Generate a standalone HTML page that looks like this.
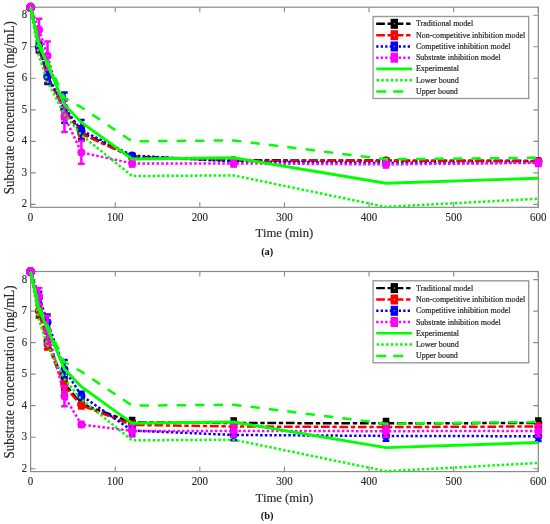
<!DOCTYPE html>
<html><head><meta charset="utf-8"><title>Substrate concentration</title>
<style>
html,body{margin:0;padding:0;background:#fff;}
body{width:550px;height:524px;overflow:hidden;}
svg{display:block;filter:blur(0.3px);}
.tl{font-family:'Liberation Serif', 'Times New Roman', serif;font-size:11.8px;fill:#2a2a2a;stroke:#2a2a2a;stroke-width:0.15px;}
.al{font-family:'Liberation Serif', 'Times New Roman', serif;font-size:12.8px;fill:#2a2a2a;stroke:#2a2a2a;stroke-width:0.15px;}
.yl{font-size:13.6px;}
.lg{font-family:'Liberation Serif', 'Times New Roman', serif;font-size:8.5px;fill:#2a2a2a;stroke:#2a2a2a;stroke-width:0.22px;}
.pl{font-family:'Liberation Serif', 'Times New Roman', serif;font-size:10.4px;font-weight:bold;fill:#111;}
</style></head>
<body>
<svg width="550" height="524" viewBox="0 0 550 524">
<rect width="550" height="524" fill="#fff"/>
<rect x="30.60" y="7.20" width="507.70" height="200.10" fill="none" stroke="#8a8a8a" stroke-width="1.2"/>
<path d="M30.60 204.40h5M538.30 204.40h-5M30.60 172.88h5M538.30 172.88h-5M30.60 141.36h5M538.30 141.36h-5M30.60 109.84h5M538.30 109.84h-5M30.60 78.32h5M538.30 78.32h-5M30.60 46.80h5M538.30 46.80h-5M30.60 15.28h5M538.30 15.28h-5M30.60 207.30v-5M30.60 7.20v5M115.22 207.30v-5M115.22 7.20v5M199.83 207.30v-5M199.83 7.20v5M284.45 207.30v-5M284.45 7.20v5M369.07 207.30v-5M369.07 7.20v5M453.68 207.30v-5M453.68 7.20v5M538.30 207.30v-5M538.30 7.20v5" stroke="#8a8a8a" stroke-width="1.1" fill="none"/>
<text x="27.2" y="207.40" text-anchor="end" class="tl" textLength="5.4" lengthAdjust="spacingAndGlyphs">2</text>
<text x="27.2" y="175.88" text-anchor="end" class="tl" textLength="5.4" lengthAdjust="spacingAndGlyphs">3</text>
<text x="27.2" y="144.36" text-anchor="end" class="tl" textLength="5.4" lengthAdjust="spacingAndGlyphs">4</text>
<text x="27.2" y="112.84" text-anchor="end" class="tl" textLength="5.4" lengthAdjust="spacingAndGlyphs">5</text>
<text x="27.2" y="81.32" text-anchor="end" class="tl" textLength="5.4" lengthAdjust="spacingAndGlyphs">6</text>
<text x="27.2" y="49.80" text-anchor="end" class="tl" textLength="5.4" lengthAdjust="spacingAndGlyphs">7</text>
<text x="27.2" y="18.28" text-anchor="end" class="tl" textLength="5.4" lengthAdjust="spacingAndGlyphs">8</text>
<text x="30.60" y="221.00" text-anchor="middle" class="tl" textLength="5.5" lengthAdjust="spacingAndGlyphs">0</text>
<text x="115.22" y="221.00" text-anchor="middle" class="tl" textLength="16.4" lengthAdjust="spacingAndGlyphs">100</text>
<text x="199.83" y="221.00" text-anchor="middle" class="tl" textLength="16.4" lengthAdjust="spacingAndGlyphs">200</text>
<text x="284.45" y="221.00" text-anchor="middle" class="tl" textLength="16.4" lengthAdjust="spacingAndGlyphs">300</text>
<text x="369.07" y="221.00" text-anchor="middle" class="tl" textLength="16.4" lengthAdjust="spacingAndGlyphs">400</text>
<text x="453.68" y="221.00" text-anchor="middle" class="tl" textLength="16.4" lengthAdjust="spacingAndGlyphs">500</text>
<text x="538.30" y="221.00" text-anchor="middle" class="tl" textLength="16.4" lengthAdjust="spacingAndGlyphs">600</text>
<text transform="translate(14.1 107.65) rotate(-90)" text-anchor="middle" class="al yl" textLength="173.2" lengthAdjust="spacingAndGlyphs">Substrate concentration (mg/mL)</text>
<text x="284.4" y="237.40" text-anchor="middle" class="al" textLength="57.6" lengthAdjust="spacingAndGlyphs">Time (min)</text>
<text x="267.2" y="254.60" text-anchor="middle" class="pl">(a)</text>
<clipPath id="ca"><rect x="24.60" y="1.20" width="519.70" height="212.10"/></clipPath>
<g clip-path="url(#ca)" fill="none" stroke-width="2.5">
<polyline points="30.60,7.40 39.06,47.43 47.52,76.74 64.45,109.21 81.37,132.53 132.14,156.49 233.68,160.27 385.99,160.59 538.30,160.90" stroke="#000000" stroke-dasharray="8.7 2.7 4.4 2.7"/>
<path d="M39.06 42.70V52.16M35.76 42.70h6.6M35.76 52.16h6.6M47.52 70.44V83.05M44.22 70.44h6.6M44.22 83.05h6.6M64.45 99.75V118.67M61.15 99.75h6.6M61.15 118.67h6.6M81.37 126.23V138.84M78.07 126.23h6.6M78.07 138.84h6.6M132.14 154.60V158.38M128.84 154.60h6.6M128.84 158.38h6.6M233.68 158.38V162.16M230.38 158.38h6.6M230.38 162.16h6.6M385.99 158.70V162.48M382.69 158.70h6.6M382.69 162.48h6.6M538.30 159.01V162.79M535.00 159.01h6.6M535.00 162.79h6.6" stroke="#000000"/>
<circle cx="30.60" cy="7.40" r="3.0" stroke="#000000" stroke-width="3.2"/>
<circle cx="39.06" cy="47.43" r="2.6" stroke="#000000" stroke-width="2.8"/>
<circle cx="47.52" cy="76.74" r="2.6" stroke="#000000" stroke-width="2.8"/>
<circle cx="64.45" cy="109.21" r="2.6" stroke="#000000" stroke-width="2.8"/>
<circle cx="81.37" cy="132.53" r="2.6" stroke="#000000" stroke-width="2.8"/>
<circle cx="132.14" cy="156.49" r="2.6" stroke="#000000" stroke-width="2.8"/>
<circle cx="233.68" cy="160.27" r="2.6" stroke="#000000" stroke-width="2.8"/>
<circle cx="385.99" cy="160.59" r="2.6" stroke="#000000" stroke-width="2.8"/>
<circle cx="538.30" cy="160.90" r="2.6" stroke="#000000" stroke-width="2.8"/>
<polyline points="30.60,7.40 39.06,48.06 47.52,77.06 64.45,109.84 81.37,133.80 132.14,157.12 233.68,160.59 385.99,160.90 538.30,161.22" stroke="#ff0000" stroke-dasharray="8.7 2.7 4.4 2.7"/>
<path d="M39.06 43.33V52.79M35.76 43.33h6.6M35.76 52.79h6.6M47.52 70.76V83.36M44.22 70.76h6.6M44.22 83.36h6.6M64.45 100.38V119.30M61.15 100.38h6.6M61.15 119.30h6.6M81.37 127.49V140.10M78.07 127.49h6.6M78.07 140.10h6.6M132.14 155.23V159.01M128.84 155.23h6.6M128.84 159.01h6.6M233.68 158.70V162.48M230.38 158.70h6.6M230.38 162.48h6.6M385.99 158.38V163.42M382.69 158.38h6.6M382.69 163.42h6.6M538.30 159.33V163.11M535.00 159.33h6.6M535.00 163.11h6.6" stroke="#ff0000"/>
<circle cx="30.60" cy="7.40" r="3.0" stroke="#ff0000" stroke-width="3.2"/>
<circle cx="39.06" cy="48.06" r="2.6" stroke="#ff0000" stroke-width="2.8"/>
<circle cx="47.52" cy="77.06" r="2.6" stroke="#ff0000" stroke-width="2.8"/>
<circle cx="64.45" cy="109.84" r="2.6" stroke="#ff0000" stroke-width="2.8"/>
<circle cx="81.37" cy="133.80" r="2.6" stroke="#ff0000" stroke-width="2.8"/>
<circle cx="132.14" cy="157.12" r="2.6" stroke="#ff0000" stroke-width="2.8"/>
<circle cx="233.68" cy="160.59" r="2.6" stroke="#ff0000" stroke-width="2.8"/>
<circle cx="385.99" cy="160.90" r="2.6" stroke="#ff0000" stroke-width="2.8"/>
<circle cx="538.30" cy="161.22" r="2.6" stroke="#ff0000" stroke-width="2.8"/>
<polyline points="30.60,7.40 39.06,46.80 47.52,76.11 64.45,107.63 81.37,130.33 132.14,155.54 233.68,161.53 385.99,163.11 538.30,162.79" stroke="#0000ff" stroke-dasharray="2.5 2.2"/>
<path d="M39.06 42.07V51.53M35.76 42.07h6.6M35.76 51.53h6.6M47.52 68.23V83.99M44.22 68.23h6.6M44.22 83.99h6.6M64.45 92.50V122.76M61.15 92.50h6.6M61.15 122.76h6.6M81.37 119.93V140.73M78.07 119.93h6.6M78.07 140.73h6.6M132.14 153.65V157.44M128.84 153.65h6.6M128.84 157.44h6.6M233.68 159.64V163.42M230.38 159.64h6.6M230.38 163.42h6.6M385.99 161.22V165.00M382.69 161.22h6.6M382.69 165.00h6.6M538.30 160.90V164.68M535.00 160.90h6.6M535.00 164.68h6.6" stroke="#0000ff"/>
<circle cx="30.60" cy="7.40" r="3.0" stroke="#0000ff" stroke-width="3.2"/>
<circle cx="39.06" cy="46.80" r="2.6" stroke="#0000ff" stroke-width="2.8"/>
<circle cx="47.52" cy="76.11" r="2.6" stroke="#0000ff" stroke-width="2.8"/>
<circle cx="64.45" cy="107.63" r="2.6" stroke="#0000ff" stroke-width="2.8"/>
<circle cx="81.37" cy="130.33" r="2.6" stroke="#0000ff" stroke-width="2.8"/>
<circle cx="132.14" cy="155.54" r="2.6" stroke="#0000ff" stroke-width="2.8"/>
<circle cx="233.68" cy="161.53" r="2.6" stroke="#0000ff" stroke-width="2.8"/>
<circle cx="385.99" cy="163.11" r="2.6" stroke="#0000ff" stroke-width="2.8"/>
<circle cx="538.30" cy="162.79" r="2.6" stroke="#0000ff" stroke-width="2.8"/>
<polyline points="30.60,7.40 39.06,29.78 47.52,55.63 64.45,116.14 81.37,152.39 132.14,163.42 233.68,163.42 385.99,164.37 538.30,162.79" stroke="#ff00ff" stroke-dasharray="2.5 2.2"/>
<path d="M39.06 18.75V40.81M35.76 18.75h6.6M35.76 40.81h6.6M47.52 41.44V69.81M44.22 41.44h6.6M44.22 69.81h6.6M64.45 100.38V131.90M61.15 100.38h6.6M61.15 131.90h6.6M81.37 141.04V163.74M78.07 141.04h6.6M78.07 163.74h6.6M132.14 160.27V166.58M128.84 160.27h6.6M128.84 166.58h6.6M233.68 160.27V166.58M230.38 160.27h6.6M230.38 166.58h6.6M385.99 161.22V167.52M382.69 161.22h6.6M382.69 167.52h6.6M538.30 159.64V165.95M535.00 159.64h6.6M535.00 165.95h6.6" stroke="#ff00ff"/>
<circle cx="30.60" cy="7.40" r="3.0" stroke="#ff00ff" stroke-width="3.2"/>
<circle cx="39.06" cy="29.78" r="2.6" stroke="#ff00ff" stroke-width="2.8"/>
<circle cx="47.52" cy="55.63" r="2.6" stroke="#ff00ff" stroke-width="2.8"/>
<circle cx="64.45" cy="116.14" r="2.6" stroke="#ff00ff" stroke-width="2.8"/>
<circle cx="81.37" cy="152.39" r="2.6" stroke="#ff00ff" stroke-width="2.8"/>
<circle cx="132.14" cy="163.42" r="2.6" stroke="#ff00ff" stroke-width="2.8"/>
<circle cx="233.68" cy="163.42" r="2.6" stroke="#ff00ff" stroke-width="2.8"/>
<circle cx="385.99" cy="164.37" r="2.6" stroke="#ff00ff" stroke-width="2.8"/>
<circle cx="538.30" cy="162.79" r="2.6" stroke="#ff00ff" stroke-width="2.8"/>
<polyline points="30.60,7.40 39.06,45.54 47.52,64.45 64.45,104.80 81.37,122.45 132.14,159.01 233.68,157.75 385.99,183.28 538.30,178.24" stroke="#00ff00" stroke-width="2.9"/>
<polyline points="30.60,7.40 39.06,56.26 47.52,81.47 64.45,114.57 81.37,135.06 132.14,176.03 233.68,175.40 385.99,206.92 538.30,198.73" stroke="#00ff00" stroke-dasharray="2.5 2.2"/>
<polyline points="30.60,7.40 39.06,42.07 47.52,60.98 64.45,97.86 81.37,107.32 132.14,141.36 233.68,140.41 385.99,159.33 538.30,157.75" stroke="#00ff00" stroke-dasharray="9.3 9.2"/>
</g>
<rect x="373.10" y="16.50" width="155.60" height="82.00" fill="#fff" stroke="#9a9a9a" stroke-width="1.4"/>
<text x="415.9" y="26.30" class="lg" textLength="57.26" lengthAdjust="spacingAndGlyphs">Traditional model</text>
<line x1="376.2" y1="23.80" x2="411.2" y2="23.80" stroke="#000000" stroke-width="2.4" stroke-dasharray="8.7 2.7 4.4 2.7"/>
<rect x="390.6" y="18.80" width="7.4" height="10" fill="#000000"/>
<circle cx="394.3" cy="23.80" r="0.8" fill="#fff" fill-opacity="0.55"/>
<text x="415.9" y="37.70" class="lg" textLength="109.32" lengthAdjust="spacingAndGlyphs">Non-competitive inhibition model</text>
<line x1="376.2" y1="35.20" x2="411.2" y2="35.20" stroke="#ff0000" stroke-width="2.4" stroke-dasharray="8.7 2.7 4.4 2.7"/>
<rect x="390.6" y="30.20" width="7.4" height="10" fill="#ff0000"/>
<circle cx="394.3" cy="35.20" r="0.8" fill="#fff" fill-opacity="0.55"/>
<text x="415.9" y="49.00" class="lg" textLength="94.66" lengthAdjust="spacingAndGlyphs">Competitive inhibition model</text>
<line x1="376.2" y1="46.50" x2="411.2" y2="46.50" stroke="#0000ff" stroke-width="2.4" stroke-dasharray="2.3 2.2"/>
<rect x="390.6" y="41.50" width="7.4" height="10" fill="#0000ff"/>
<circle cx="394.3" cy="46.50" r="0.8" fill="#fff" fill-opacity="0.55"/>
<text x="415.9" y="60.20" class="lg" textLength="84.88" lengthAdjust="spacingAndGlyphs">Substrate inhibition model</text>
<line x1="376.2" y1="57.70" x2="411.2" y2="57.70" stroke="#ff00ff" stroke-width="2.4" stroke-dasharray="2.3 2.2"/>
<rect x="390.6" y="52.70" width="7.4" height="10" fill="#ff00ff"/>
<circle cx="394.3" cy="57.70" r="0.8" fill="#fff" fill-opacity="0.55"/>
<text x="415.9" y="71.40" class="lg" textLength="43.09" lengthAdjust="spacingAndGlyphs">Experimental</text>
<line x1="376.2" y1="68.90" x2="412.2" y2="68.90" stroke="#00ff00" stroke-width="2.6"/>
<text x="415.9" y="82.70" class="lg" textLength="42.88" lengthAdjust="spacingAndGlyphs">Lower bound</text>
<line x1="376.6" y1="80.20" x2="412" y2="80.20" stroke="#00ff00" stroke-width="2.4" stroke-dasharray="2.5 2.2"/>
<text x="415.9" y="94.10" class="lg" textLength="41.99" lengthAdjust="spacingAndGlyphs">Upper bound</text>
<line x1="376.2" y1="91.60" x2="403.2" y2="91.60" stroke="#00ff00" stroke-width="2.5" stroke-dasharray="10 7"/>
<rect x="30.60" y="271.50" width="507.70" height="200.10" fill="none" stroke="#8a8a8a" stroke-width="1.2"/>
<path d="M30.60 468.70h5M538.30 468.70h-5M30.60 437.18h5M538.30 437.18h-5M30.60 405.66h5M538.30 405.66h-5M30.60 374.14h5M538.30 374.14h-5M30.60 342.62h5M538.30 342.62h-5M30.60 311.10h5M538.30 311.10h-5M30.60 279.58h5M538.30 279.58h-5M30.60 471.60v-5M30.60 271.50v5M115.22 471.60v-5M115.22 271.50v5M199.83 471.60v-5M199.83 271.50v5M284.45 471.60v-5M284.45 271.50v5M369.07 471.60v-5M369.07 271.50v5M453.68 471.60v-5M453.68 271.50v5M538.30 471.60v-5M538.30 271.50v5" stroke="#8a8a8a" stroke-width="1.1" fill="none"/>
<text x="27.2" y="471.70" text-anchor="end" class="tl" textLength="5.4" lengthAdjust="spacingAndGlyphs">2</text>
<text x="27.2" y="440.18" text-anchor="end" class="tl" textLength="5.4" lengthAdjust="spacingAndGlyphs">3</text>
<text x="27.2" y="408.66" text-anchor="end" class="tl" textLength="5.4" lengthAdjust="spacingAndGlyphs">4</text>
<text x="27.2" y="377.14" text-anchor="end" class="tl" textLength="5.4" lengthAdjust="spacingAndGlyphs">5</text>
<text x="27.2" y="345.62" text-anchor="end" class="tl" textLength="5.4" lengthAdjust="spacingAndGlyphs">6</text>
<text x="27.2" y="314.10" text-anchor="end" class="tl" textLength="5.4" lengthAdjust="spacingAndGlyphs">7</text>
<text x="27.2" y="282.58" text-anchor="end" class="tl" textLength="5.4" lengthAdjust="spacingAndGlyphs">8</text>
<text x="30.60" y="485.30" text-anchor="middle" class="tl" textLength="5.5" lengthAdjust="spacingAndGlyphs">0</text>
<text x="115.22" y="485.30" text-anchor="middle" class="tl" textLength="16.4" lengthAdjust="spacingAndGlyphs">100</text>
<text x="199.83" y="485.30" text-anchor="middle" class="tl" textLength="16.4" lengthAdjust="spacingAndGlyphs">200</text>
<text x="284.45" y="485.30" text-anchor="middle" class="tl" textLength="16.4" lengthAdjust="spacingAndGlyphs">300</text>
<text x="369.07" y="485.30" text-anchor="middle" class="tl" textLength="16.4" lengthAdjust="spacingAndGlyphs">400</text>
<text x="453.68" y="485.30" text-anchor="middle" class="tl" textLength="16.4" lengthAdjust="spacingAndGlyphs">500</text>
<text x="538.30" y="485.30" text-anchor="middle" class="tl" textLength="16.4" lengthAdjust="spacingAndGlyphs">600</text>
<text transform="translate(14.1 371.95) rotate(-90)" text-anchor="middle" class="al yl" textLength="173.2" lengthAdjust="spacingAndGlyphs">Substrate concentration (mg/mL)</text>
<text x="284.4" y="501.70" text-anchor="middle" class="al" textLength="57.6" lengthAdjust="spacingAndGlyphs">Time (min)</text>
<text x="267.2" y="518.90" text-anchor="middle" class="pl">(b)</text>
<clipPath id="cb"><rect x="24.60" y="265.50" width="519.70" height="212.10"/></clipPath>
<g clip-path="url(#cb)" fill="none" stroke-width="2.5">
<polyline points="30.60,271.70 39.06,311.10 47.52,341.04 64.45,383.60 81.37,404.08 132.14,422.37 233.68,423.00 385.99,423.31 538.30,423.00" stroke="#000000" stroke-dasharray="8.7 2.7 4.4 2.7"/>
<path d="M39.06 304.80V317.40M35.76 304.80h6.6M35.76 317.40h6.6M47.52 333.16V348.92M44.22 333.16h6.6M44.22 348.92h6.6M64.45 377.29V389.90M61.15 377.29h6.6M61.15 389.90h6.6M81.37 400.93V407.24M78.07 400.93h6.6M78.07 407.24h6.6M132.14 417.95V426.78M128.84 417.95h6.6M128.84 426.78h6.6M233.68 418.58V427.41M230.38 418.58h6.6M230.38 427.41h6.6M385.99 418.90V427.72M382.69 418.90h6.6M382.69 427.72h6.6M538.30 418.58V427.41M535.00 418.58h6.6M535.00 427.41h6.6" stroke="#000000"/>
<circle cx="30.60" cy="271.70" r="3.0" stroke="#000000" stroke-width="3.2"/>
<circle cx="39.06" cy="311.10" r="2.6" stroke="#000000" stroke-width="2.8"/>
<circle cx="47.52" cy="341.04" r="2.6" stroke="#000000" stroke-width="2.8"/>
<circle cx="64.45" cy="383.60" r="2.6" stroke="#000000" stroke-width="2.8"/>
<circle cx="81.37" cy="404.08" r="2.6" stroke="#000000" stroke-width="2.8"/>
<circle cx="132.14" cy="422.37" r="2.6" stroke="#000000" stroke-width="2.8"/>
<circle cx="233.68" cy="423.00" r="2.6" stroke="#000000" stroke-width="2.8"/>
<circle cx="385.99" cy="423.31" r="2.6" stroke="#000000" stroke-width="2.8"/>
<circle cx="538.30" cy="423.00" r="2.6" stroke="#000000" stroke-width="2.8"/>
<polyline points="30.60,271.70 39.06,311.10 47.52,344.20 64.45,386.12 81.37,405.34 132.14,424.89 233.68,426.46 385.99,427.09 538.30,426.46" stroke="#ff0000" stroke-dasharray="8.7 2.7 4.4 2.7"/>
<path d="M39.06 306.06V316.14M35.76 306.06h6.6M35.76 316.14h6.6M47.52 338.84V349.55M44.22 338.84h6.6M44.22 349.55h6.6M64.45 379.81V392.42M61.15 379.81h6.6M61.15 392.42h6.6M81.37 402.19V408.50M78.07 402.19h6.6M78.07 408.50h6.6M132.14 421.74V428.04M128.84 421.74h6.6M128.84 428.04h6.6M233.68 423.31V429.62M230.38 423.31h6.6M230.38 429.62h6.6M385.99 423.94V430.25M382.69 423.94h6.6M382.69 430.25h6.6M538.30 423.31V429.62M535.00 423.31h6.6M535.00 429.62h6.6" stroke="#ff0000"/>
<circle cx="30.60" cy="271.70" r="3.0" stroke="#ff0000" stroke-width="3.2"/>
<circle cx="39.06" cy="311.10" r="2.6" stroke="#ff0000" stroke-width="2.8"/>
<circle cx="47.52" cy="344.20" r="2.6" stroke="#ff0000" stroke-width="2.8"/>
<circle cx="64.45" cy="386.12" r="2.6" stroke="#ff0000" stroke-width="2.8"/>
<circle cx="81.37" cy="405.34" r="2.6" stroke="#ff0000" stroke-width="2.8"/>
<circle cx="132.14" cy="424.89" r="2.6" stroke="#ff0000" stroke-width="2.8"/>
<circle cx="233.68" cy="426.46" r="2.6" stroke="#ff0000" stroke-width="2.8"/>
<circle cx="385.99" cy="427.09" r="2.6" stroke="#ff0000" stroke-width="2.8"/>
<circle cx="538.30" cy="426.46" r="2.6" stroke="#ff0000" stroke-width="2.8"/>
<polyline points="30.60,271.70 39.06,297.23 47.52,322.13 64.45,369.41 81.37,395.57 132.14,430.56 233.68,434.97 385.99,435.92 538.30,436.23" stroke="#0000ff" stroke-dasharray="2.5 2.2"/>
<path d="M39.06 291.87V302.59M35.76 291.87h6.6M35.76 302.59h6.6M47.52 314.57V329.70M44.22 314.57h6.6M44.22 329.70h6.6M64.45 359.96V378.87M61.15 359.96h6.6M61.15 378.87h6.6M81.37 391.79V399.36M78.07 391.79h6.6M78.07 399.36h6.6M132.14 425.83V435.29M128.84 425.83h6.6M128.84 435.29h6.6M233.68 429.62V440.33M230.38 429.62h6.6M230.38 440.33h6.6M385.99 431.19V440.65M382.69 431.19h6.6M382.69 440.65h6.6M538.30 431.51V440.96M535.00 431.51h6.6M535.00 440.96h6.6" stroke="#0000ff"/>
<circle cx="30.60" cy="271.70" r="3.0" stroke="#0000ff" stroke-width="3.2"/>
<circle cx="39.06" cy="297.23" r="2.6" stroke="#0000ff" stroke-width="2.8"/>
<circle cx="47.52" cy="322.13" r="2.6" stroke="#0000ff" stroke-width="2.8"/>
<circle cx="64.45" cy="369.41" r="2.6" stroke="#0000ff" stroke-width="2.8"/>
<circle cx="81.37" cy="395.57" r="2.6" stroke="#0000ff" stroke-width="2.8"/>
<circle cx="132.14" cy="430.56" r="2.6" stroke="#0000ff" stroke-width="2.8"/>
<circle cx="233.68" cy="434.97" r="2.6" stroke="#0000ff" stroke-width="2.8"/>
<circle cx="385.99" cy="435.92" r="2.6" stroke="#0000ff" stroke-width="2.8"/>
<circle cx="538.30" cy="436.23" r="2.6" stroke="#0000ff" stroke-width="2.8"/>
<polyline points="30.60,271.70 39.06,296.29 47.52,330.01 64.45,396.20 81.37,424.57 132.14,430.88 233.68,430.88 385.99,431.19 538.30,430.88" stroke="#ff00ff" stroke-dasharray="2.5 2.2"/>
<path d="M39.06 288.09V304.48M35.76 288.09h6.6M35.76 304.48h6.6M47.52 315.83V344.20M44.22 315.83h6.6M44.22 344.20h6.6M64.45 386.12V406.29M61.15 386.12h6.6M61.15 406.29h6.6M81.37 422.05V427.09M78.07 422.05h6.6M78.07 427.09h6.6M132.14 425.20V436.55M128.84 425.20h6.6M128.84 436.55h6.6M233.68 425.20V436.55M230.38 425.20h6.6M230.38 436.55h6.6M385.99 425.52V436.86M382.69 425.52h6.6M382.69 436.86h6.6M538.30 425.20V436.55M535.00 425.20h6.6M535.00 436.55h6.6" stroke="#ff00ff"/>
<circle cx="30.60" cy="271.70" r="3.0" stroke="#ff00ff" stroke-width="3.2"/>
<circle cx="39.06" cy="296.29" r="2.6" stroke="#ff00ff" stroke-width="2.8"/>
<circle cx="47.52" cy="330.01" r="2.6" stroke="#ff00ff" stroke-width="2.8"/>
<circle cx="64.45" cy="396.20" r="2.6" stroke="#ff00ff" stroke-width="2.8"/>
<circle cx="81.37" cy="424.57" r="2.6" stroke="#ff00ff" stroke-width="2.8"/>
<circle cx="132.14" cy="430.88" r="2.6" stroke="#ff00ff" stroke-width="2.8"/>
<circle cx="233.68" cy="430.88" r="2.6" stroke="#ff00ff" stroke-width="2.8"/>
<circle cx="385.99" cy="431.19" r="2.6" stroke="#ff00ff" stroke-width="2.8"/>
<circle cx="538.30" cy="430.88" r="2.6" stroke="#ff00ff" stroke-width="2.8"/>
<polyline points="30.60,271.70 39.06,309.84 47.52,328.75 64.45,369.10 81.37,386.75 132.14,423.31 233.68,422.05 385.99,447.58 538.30,442.54" stroke="#00ff00" stroke-width="2.9"/>
<polyline points="30.60,271.70 39.06,320.56 47.52,345.77 64.45,378.87 81.37,399.36 132.14,440.33 233.68,439.70 385.99,471.22 538.30,463.03" stroke="#00ff00" stroke-dasharray="2.5 2.2"/>
<polyline points="30.60,271.70 39.06,306.37 47.52,325.28 64.45,362.16 81.37,371.62 132.14,405.66 233.68,404.71 385.99,423.63 538.30,422.05" stroke="#00ff00" stroke-dasharray="9.3 9.2"/>
</g>
<rect x="373.10" y="280.80" width="155.60" height="82.00" fill="#fff" stroke="#9a9a9a" stroke-width="1.4"/>
<text x="415.9" y="290.60" class="lg" textLength="57.26" lengthAdjust="spacingAndGlyphs">Traditional model</text>
<line x1="376.2" y1="288.10" x2="411.2" y2="288.10" stroke="#000000" stroke-width="2.4" stroke-dasharray="8.7 2.7 4.4 2.7"/>
<rect x="390.6" y="283.10" width="7.4" height="10" fill="#000000"/>
<circle cx="394.3" cy="288.10" r="0.8" fill="#fff" fill-opacity="0.55"/>
<text x="415.9" y="302.00" class="lg" textLength="109.32" lengthAdjust="spacingAndGlyphs">Non-competitive inhibition model</text>
<line x1="376.2" y1="299.50" x2="411.2" y2="299.50" stroke="#ff0000" stroke-width="2.4" stroke-dasharray="8.7 2.7 4.4 2.7"/>
<rect x="390.6" y="294.50" width="7.4" height="10" fill="#ff0000"/>
<circle cx="394.3" cy="299.50" r="0.8" fill="#fff" fill-opacity="0.55"/>
<text x="415.9" y="313.30" class="lg" textLength="94.66" lengthAdjust="spacingAndGlyphs">Competitive inhibition model</text>
<line x1="376.2" y1="310.80" x2="411.2" y2="310.80" stroke="#0000ff" stroke-width="2.4" stroke-dasharray="2.3 2.2"/>
<rect x="390.6" y="305.80" width="7.4" height="10" fill="#0000ff"/>
<circle cx="394.3" cy="310.80" r="0.8" fill="#fff" fill-opacity="0.55"/>
<text x="415.9" y="324.50" class="lg" textLength="84.88" lengthAdjust="spacingAndGlyphs">Substrate inhibition model</text>
<line x1="376.2" y1="322.00" x2="411.2" y2="322.00" stroke="#ff00ff" stroke-width="2.4" stroke-dasharray="2.3 2.2"/>
<rect x="390.6" y="317.00" width="7.4" height="10" fill="#ff00ff"/>
<circle cx="394.3" cy="322.00" r="0.8" fill="#fff" fill-opacity="0.55"/>
<text x="415.9" y="335.70" class="lg" textLength="43.09" lengthAdjust="spacingAndGlyphs">Experimental</text>
<line x1="376.2" y1="333.20" x2="412.2" y2="333.20" stroke="#00ff00" stroke-width="2.6"/>
<text x="415.9" y="347.00" class="lg" textLength="42.88" lengthAdjust="spacingAndGlyphs">Lower bound</text>
<line x1="376.6" y1="344.50" x2="412" y2="344.50" stroke="#00ff00" stroke-width="2.4" stroke-dasharray="2.5 2.2"/>
<text x="415.9" y="358.40" class="lg" textLength="41.99" lengthAdjust="spacingAndGlyphs">Upper bound</text>
<line x1="376.2" y1="355.90" x2="403.2" y2="355.90" stroke="#00ff00" stroke-width="2.5" stroke-dasharray="10 7"/>
</svg>
</body></html>
